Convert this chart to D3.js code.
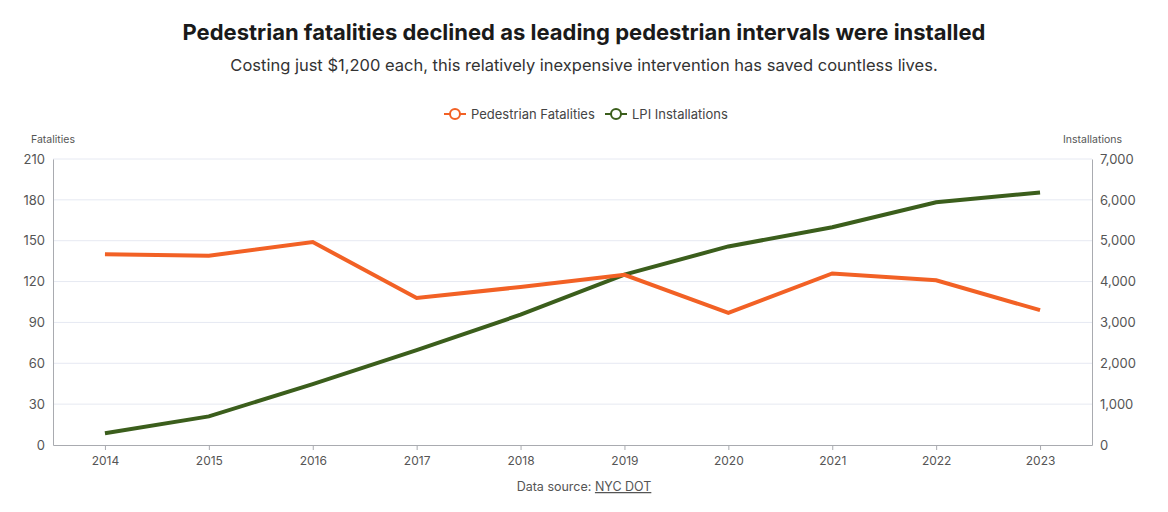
<!DOCTYPE html>
<html>
<head>
<meta charset="utf-8">
<script src="https://cdn.jsdelivr.net/npm/d3@7"></script>
<style>
  body { margin: 0; background: #fff; font-family: Inter, "Noto Sans", sans-serif; }
  svg text { font-family: Inter, "Noto Sans", sans-serif; }
</style>
</head>
<body>
<svg width="1168" height="512"></svg>
<script>
  const years = ['2014', '2015', '2016', '2017', '2018', '2019', '2020', '2021', '2022', '2023'];
  const fatalities = [140, 139, 149, 108, 116, 125, 97, 126, 121, 99];
  const installations = [290, 700, 1490, 2320, 3190, 4170, 4860, 5330, 5940, 6180];
  const leftTicks = [0, 30, 60, 90, 120, 150, 180, 210];
  const rightTicks = [0, 1000, 2000, 3000, 4000, 5000, 6000, 7000];

  const svg = d3.select('svg');
  const width = +svg.attr('width');

  const margin = { top: 159, right: 76, bottom: 67, left: 53 };
  const innerWidth = width - margin.left - margin.right;
  const innerHeight = 512 - margin.top - margin.bottom;

  const orange = '#f26125';
  const green = '#3b5e1c';

  // titles
  svg.append('text')
      .attr('x', width / 2).attr('y', 40)
      .attr('text-anchor', 'middle')
      .attr('font-size', 22).attr('font-weight', 700)
      .attr('fill', '#1a1a1a')
      .text('Pedestrian fatalities declined as leading pedestrian intervals were installed');

  svg.append('text')
      .attr('x', width / 2).attr('y', 71)
      .attr('text-anchor', 'middle')
      .attr('font-size', 16.5)
      .attr('fill', '#333')
      .text('Costing just $1,200 each, this relatively inexpensive intervention has saved countless lives.');

  // legend
  const legendItems = [
    { label: 'Pedestrian Fatalities', color: orange, x: 444 },
    { label: 'LPI Installations', color: green, x: 605 }
  ];
  const lg = svg.append('g').selectAll('g').data(legendItems).join('g')
      .attr('transform', d => `translate(${d.x},114)`);
  lg.append('line').attr('x1', 0).attr('x2', 22)
      .attr('stroke', d => d.color).attr('stroke-width', 2);
  lg.append('circle').attr('cx', 11).attr('r', 5)
      .attr('fill', '#fff').attr('stroke', d => d.color).attr('stroke-width', 2);
  lg.append('text').attr('x', 27).attr('y', 5)
      .attr('font-size', 13).attr('fill', '#444')
      .text(d => d.label);

  const g = svg.append('g')
      .attr('transform', `translate(${margin.left},${margin.top})`);

  const xScale = d3.scalePoint()
    .domain(years)
    .range([0, innerWidth])
    .padding(0.5);

  const yLeft = d3.scaleLinear().domain([0, 210]).range([innerHeight, 0]);
  const yRight = d3.scaleLinear().domain([0, 7000]).range([innerHeight, 0]);

  // gridlines
  g.append('g').selectAll('line').data(leftTicks.slice(1)).join('line')
      .attr('x1', 0).attr('x2', innerWidth)
      .attr('y1', d => yLeft(d)).attr('y2', d => yLeft(d))
      .attr('stroke', '#e6e9f2').attr('stroke-width', 1);

  // left axis
  const yAxisL = d3.axisLeft(yLeft).tickValues(leftTicks).tickSize(0).tickPadding(8);
  const yAxisLG = g.append('g').call(yAxisL).attr('font-family', null);
  yAxisLG.select('.domain').attr('stroke', '#a9abb0');
  yAxisLG.selectAll('text').attr('font-size', 13).attr('fill', '#555');

  // right axis
  const yAxisR = d3.axisRight(yRight).tickValues(rightTicks).tickSize(0).tickPadding(8)
    .tickFormat(d3.format(','));
  const yAxisRG = g.append('g').attr('transform', `translate(${innerWidth},0)`).call(yAxisR)
      .attr('font-family', null);
  yAxisRG.select('.domain').attr('stroke', '#a9abb0');
  yAxisRG.selectAll('text').attr('font-size', 13).attr('fill', '#555');

  // x axis
  const xAxis = d3.axisBottom(xScale).tickSize(5).tickSizeOuter(0).tickPadding(6);
  const xAxisG = g.append('g').attr('transform', `translate(0,${innerHeight})`).call(xAxis)
      .attr('font-family', null);
  xAxisG.select('.domain').attr('stroke', '#a9abb0');
  xAxisG.selectAll('line').attr('stroke', '#a9abb0');
  xAxisG.selectAll('text').attr('font-size', 12).attr('fill', '#555');

  // axis titles
  svg.append('text').attr('x', 31).attr('y', 143)
      .attr('font-size', 10.5).attr('fill', '#555').text('Fatalities');
  svg.append('text').attr('x', 1122).attr('y', 143).attr('text-anchor', 'end')
      .attr('font-size', 10.5).attr('fill', '#555').text('Installations');

  // lines
  const lineL = d3.line().x((d, i) => xScale(years[i])).y(d => yLeft(d));
  const lineR = d3.line().x((d, i) => xScale(years[i])).y(d => yRight(d));

  g.append('path').attr('d', lineR(installations))
      .attr('fill', 'none').attr('stroke', green).attr('stroke-width', 4);
  g.append('path').attr('d', lineL(fatalities))
      .attr('fill', 'none').attr('stroke', orange).attr('stroke-width', 4);

  // source
  const src = svg.append('text').attr('x', width / 2).attr('y', 491)
      .attr('text-anchor', 'middle').attr('font-size', 12.5).attr('fill', '#555');
  src.append('tspan').text('Data source: ');
  src.append('tspan').attr('text-decoration', 'underline').text('NYC DOT');
</script>
</body>
</html>
